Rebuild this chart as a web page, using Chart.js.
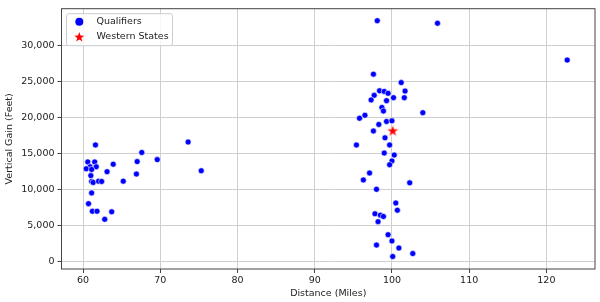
<!DOCTYPE html>
<html>
<head>
<meta charset="utf-8">
<script src="https://cdn.jsdelivr.net/npm/chart.js@4"></script>
<style>
  body { margin: 0; background: #fff; }
  #chart { display: block; }
</style>
</head>
<body>
<canvas id="chart" width="600" height="302"></canvas>
<script>
// Qualifier races: distance (miles) and vertical gain (feet)
const qualDistance = [
    61.6, 73.6, 67.6, 69.6, 60.6, 61.5, 67.0, 63.9, 60.9, 61.7,
    60.4, 61.1, 75.3, 63.1, 61.0, 66.9, 61.1, 61.3, 62.0, 62.4,
    65.2, 61.1, 60.7, 61.2, 61.8, 63.7, 62.8,
    98.1, 105.9, 97.6, 101.2, 98.4, 99.0, 99.5, 101.7, 97.7, 97.3,
    99.3, 100.2, 101.6, 98.7, 98.9, 104.0, 96.5, 95.8, 99.3, 100.0,
    98.3, 97.6, 99.1, 95.4, 99.7, 99.0, 100.3, 100.0, 99.7, 97.1,
    96.3, 102.3, 98.0, 100.5, 100.7, 97.8, 98.5, 98.9, 98.2, 99.5,
    100.0, 98.0, 100.9, 100.1, 102.7, 122.7
];
const qualGain = [
    16150, 16560, 15110, 14120, 13800, 13800, 13850, 13480, 13130, 13130,
    12850, 12760, 12580, 12450, 11900, 12120, 11090, 10950, 11130, 11090,
    11130, 9500, 8010, 6960, 6960, 6880, 5840,
    33390, 33030, 25970, 24800, 23660, 23580, 23310, 23620, 23030, 22400,
    22300, 22710, 22710, 21350, 20860, 20630, 20270, 19860, 19410, 19500,
    19000, 18090, 17140, 16150, 16150, 15030, 14750, 13940, 13400, 12260,
    11310, 10900, 10000, 8100, 7100, 6610, 6420, 6240, 5520, 3710,
    2850, 2270, 1860, 680, 1090, 27920
];
// Western States 100
const wsDistance = [100.1];
const wsGain = [18150];

const xTicks = [60, 70, 80, 90, 100, 110, 120];
const yTicks = [0, 5000, 10000, 15000, 20000, 25000, 30000];
const legendLabels = ["Qualifiers", "Western States"];

const FONT = { family: "'DejaVu Sans', sans-serif", size: 9.5 };
const TEXT = "#222";

function starPath(ctx, cx, cy, outer, inner) {
    ctx.beginPath();
    for (let i = 0; i < 10; i++) {
        const r = i % 2 ? inner : outer;
        const a = -Math.PI / 2 + i * Math.PI / 5;
        ctx.lineTo(cx + r * Math.cos(a), cy + r * Math.sin(a));
    }
    ctx.closePath();
}

// red star used as point style
const starImg = document.createElement("canvas");
starImg.width = 16;
starImg.height = 16;
(() => {
    const c = starImg.getContext("2d");
    starPath(c, 8, 8.6, 6.2, 2.5);
    c.fillStyle = "#ff0000";
    c.fill();
    c.lineWidth = 0.5;
    c.strokeStyle = "#fff";
    c.stroke();
})();

// axes frame + legend box inside the plot
const framePlugin = {
    id: "frame",
    afterDatasetsDraw(chart) {
        const { ctx, chartArea: a } = chart;
        ctx.save();
        ctx.strokeStyle = "#444";
        ctx.lineWidth = 1;
        ctx.strokeRect(a.left, a.top, a.right - a.left, a.bottom - a.top);

        // legend
        const bx = a.left + 5, by = a.top + 5;
        ctx.beginPath();
        ctx.roundRect(bx, by, 106, 32, 2.5);
        ctx.fillStyle = "rgba(255,255,255,0.8)";
        ctx.fill();
        ctx.strokeStyle = "#cccccc";
        ctx.stroke();

        ctx.beginPath();
        ctx.arc(bx + 12.8, by + 8, 4, 0, Math.PI * 2);
        ctx.fillStyle = "#0000ff";
        ctx.fill();
        starPath(ctx, bx + 12.8, by + 23.6, 5.2, 2.1);
        ctx.fillStyle = "#ff0000";
        ctx.fill();

        ctx.fillStyle = TEXT;
        ctx.font = `${FONT.size}px ${FONT.family}`;
        ctx.textBaseline = "middle";
        ctx.fillText(legendLabels[0], bx + 30, by + 8);
        ctx.fillText(legendLabels[1], bx + 30, by + 23);
        ctx.restore();
    }
};

const fmt = v => v.toLocaleString("en-US");

new Chart(document.getElementById("chart"), {
    type: "scatter",
    data: {
        datasets: [
            {
                label: legendLabels[1],
                data: wsDistance.map((d, i) => ({ x: d, y: wsGain[i] })),
                pointStyle: starImg,
                order: 0
            },
            {
                label: legendLabels[0],
                data: qualDistance.map((d, i) => ({ x: d, y: qualGain[i] })),
                backgroundColor: "#0000ff",
                borderColor: "#ffffff",
                borderWidth: 0.6,
                pointRadius: 3,
                order: 1
            }
        ]
    },
    options: {
        responsive: false,
        animation: false,
        layout: { padding: { top: 3, right: 5, left: 0, bottom: 0 } },
        plugins: {
            legend: { display: false },
            tooltip: { enabled: false }
        },
        scales: {
            x: {
                type: "linear",
                min: 57.2,
                max: 126.3,
                afterBuildTicks: s => { s.ticks = xTicks.map(v => ({ value: v })); },
                afterFit: s => { s.height = 33; },
                grid: { color: "#cfcfcf", tickColor: "#444", tickLength: 4 },
                border: { display: false },
                ticks: { color: TEXT, font: FONT, padding: 2, maxRotation: 0 },
                title: { display: true, text: "Distance (Miles)", color: TEXT, font: FONT, padding: { top: 0, bottom: 3 } }
            },
            y: {
                type: "linear",
                min: -1050,
                max: 35050,
                afterBuildTicks: s => { s.ticks = yTicks.map(v => ({ value: v })); },
                afterFit: s => { s.width = 61.5; },
                grid: { color: "#cfcfcf", tickColor: "#444", tickLength: 4 },
                border: { display: false },
                ticks: { color: TEXT, font: FONT, padding: 3, callback: v => fmt(v) },
                title: { display: true, text: "Vertical Gain (Feet)", color: TEXT, font: FONT, padding: { top: 4, bottom: 0 } }
            }
        }
    },
    plugins: [framePlugin]
});
</script>
</body>
</html>
